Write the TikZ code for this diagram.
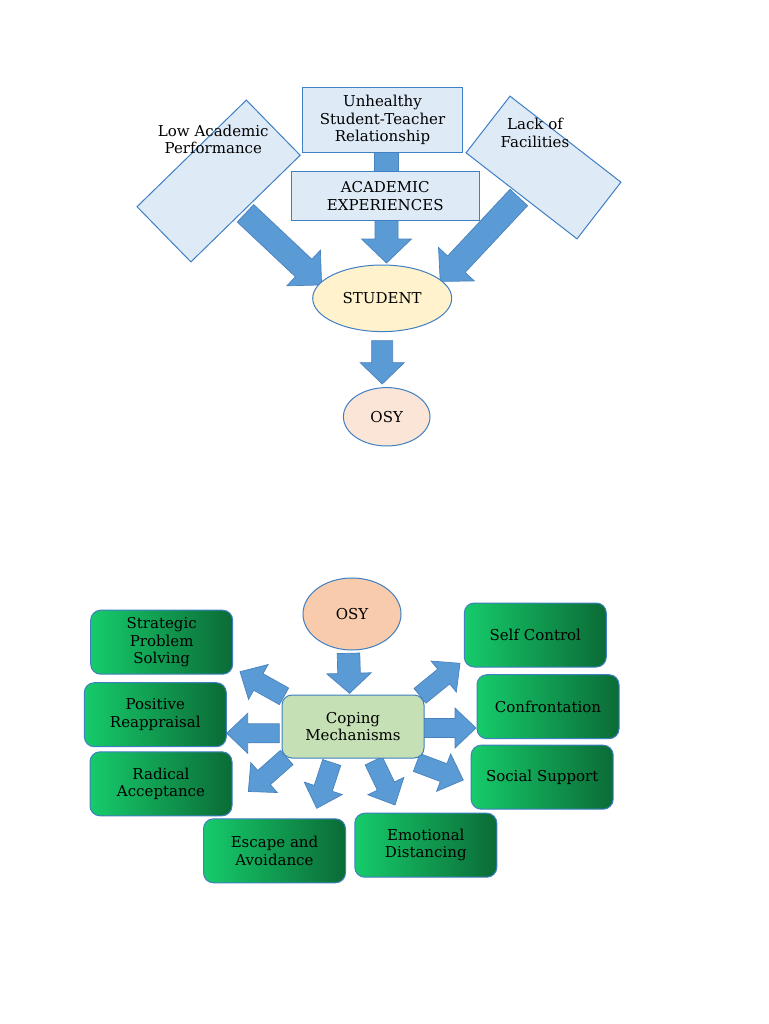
\documentclass[tikz,border=0pt]{standalone}
\usepackage{fontspec}
\setmainfont{DejaVu Serif}
\usetikzlibrary{shapes.geometric,backgrounds}
\definecolor{boxblue}{HTML}{DEEBF7}
\definecolor{edgeblue}{HTML}{3F7FC3}
\definecolor{arrowfill}{HTML}{5B9BD5}
\definecolor{arrowedge}{HTML}{4A82BE}
\definecolor{studentfill}{HTML}{FFF2CC}
\definecolor{osyfill}{HTML}{FBE5D6}
\definecolor{osyfillb}{HTML}{F8CBAD}
\definecolor{copingfill}{HTML}{C5E0B4}
\definecolor{greenL}{HTML}{16CB6B}
\definecolor{greenR}{HTML}{0B6B36}
\newcommand\blockarrow[5]{%
  \path (#1); \pgfgetlastxy{\baXa}{\baYa}%
  \path (#2); \pgfgetlastxy{\baXb}{\baYb}%
  \pgfmathsetmacro\baAng{atan2((\baYb)-(\baYa),(\baXb)-(\baXa))}%
  \pgfmathsetmacro\baLen{veclen((\baXb)-(\baXa),(\baYb)-(\baYa))}%
  \begin{scope}[shift={(#1)},rotate=\baAng,x=1pt,y=1pt]
    \draw[barrow] (0,#3) -- ({\baLen-#5},#3) -- ({\baLen-#5},#4) -- (\baLen,0)
      -- ({\baLen-#5},-#4) -- ({\baLen-#5},-#3) -- (0,-#3) -- cycle;
  \end{scope}}
\begin{document}
\begin{tikzpicture}[x=1pt,y=-1pt,
  every node/.style={font=\fontsize{15}{17.5}\selectfont, align=center, text=black},
  lightbox/.style={draw=edgeblue, fill=boxblue, line width=1pt, inner sep=0pt},
  oval/.style={ellipse, draw=edgeblue, line width=1pt, inner sep=0pt},
  greenbox/.style={draw=edgeblue, line width=1pt, rounded corners=10pt,
    left color=greenL, right color=greenR, minimum width=142pt, minimum height=64pt, inner sep=0pt},
  copingbox/.style={draw=edgeblue, fill=copingfill, line width=1pt, rounded corners=10pt,
    minimum width=142pt, minimum height=63pt, inner sep=0pt},
  barrow/.style={fill=arrowfill, draw=arrowedge, line width=0.7pt, line join=miter},
  plain/.style={inner sep=0pt}]
\useasboundingbox (0,0) rectangle (768,1024);

% ---------- top diagram ----------
\node[lightbox, minimum width=160.4pt, minimum height=65.4pt] (unh) at (382.5,120)
  {Unhealthy\\Student-Teacher\\Relationship};
\node[lightbox, minimum width=188.3pt, minimum height=48.3pt] (acad) at (385.2,195.9)
  {ACADEMIC\\EXPERIENCES};
\node[lightbox, rotate=44.3, minimum width=152.7pt, minimum height=77.1pt] (low) at (218.6,181) {};
\node[plain] (lowt) at (213.3,139.5) {Low Academic\\Performance};
\node[lightbox, rotate=-37.8, minimum width=140.4pt, minimum height=71.7pt] (lack) at (543.5,167.5) {};
\node[plain] (lackt) at (535,133) {Lack of\\Facilities};
\node[oval, fill=studentfill, minimum width=139pt, minimum height=66.6pt] (stu) at (382.2,298.3) {STUDENT};
\node[oval, fill=osyfill, minimum width=86.6pt, minimum height=58.4pt] (osy) at (386.7,416.8) {OSY};

% ---------- bottom diagram ----------
\node[oval, fill=osyfillb, minimum width=98pt, minimum height=72pt] (osyb) at (352,614) {OSY};
\node[copingbox] (cop) at (353,726.5) {Coping\\Mechanisms};
\node[greenbox] (sps) at (161.7,642.2) {Strategic\\Problem\\Solving};
\node[greenbox] (pr) at (155.3,714.7) {Positive\\Reappraisal};
\node[greenbox] (ra) at (161,783.8) {Radical\\Acceptance};
\node[greenbox] (ea) at (274.5,850.8) {Escape and\\Avoidance};
\node[greenbox] (ed) at (425.8,845.2) {Emotional\\Distancing};
\node[greenbox] (sc) at (535.3,635) {Self Control};
\node[greenbox] (co) at (548,706.7) {Confrontation};
\node[greenbox] (ss) at (542.2,777.2) {Social Support};

% arrow end points
\coordinate (bart) at (386.5,152.7);  \coordinate (barh) at (386.5,171.7);
\coordinate (a1t) at (245.5,213.3);   \coordinate (a1h) at (321.7,285);
\coordinate (a2t) at (386.5,219);     \coordinate (a2h) at (386.5,263);
\coordinate (a3t) at (518.8,197.5);   \coordinate (a3h) at (440,281.7);
\coordinate (a4t) at (382.2,340.7);   \coordinate (a4h) at (382.2,384);
\coordinate (b0t) at (348.5,653.3);   \coordinate (b0h) at (349.5,693.3);
\coordinate (bat) at (284,696.3);     \coordinate (bah) at (240,671.7);
\coordinate (bbt) at (279.3,733.3);   \coordinate (bbh) at (226.7,733.3);
\coordinate (bct) at (286.7,757.5);   \coordinate (bch) at (248.3,791.5);
\coordinate (bdt) at (331.7,762.5);   \coordinate (bdh) at (316.7,808.3);
\coordinate (bet) at (373.7,760.8);   \coordinate (beh) at (395,805);
\coordinate (bft) at (420,695.8);     \coordinate (bfh) at (460,663.3);
\coordinate (bgt) at (423.3,728);     \coordinate (bgh) at (476,728);
\coordinate (bht) at (416.7,762.5);   \coordinate (bhh) at (463.3,780);

\begin{scope}[on background layer]
  \fill[white] (0,0) rectangle (768,1024);
  \blockarrow{bart}{barh}{12}{12}{0}
  \blockarrow{a1t}{a1h}{12}{24.5}{24.7}
  \blockarrow{a2t}{a2h}{11.5}{25}{24}
  \blockarrow{a3t}{a3h}{12}{24.5}{23.6}
  \blockarrow{a4t}{a4h}{10.5}{22}{21.3}
  \blockarrow{b0t}{b0h}{11.3}{22.2}{20}
  \blockarrow{bat}{bah}{9.5}{20}{21}
  \blockarrow{bbt}{bbh}{9.5}{20}{21}
  \blockarrow{bct}{bch}{9.5}{20}{21}
  \blockarrow{bdt}{bdh}{9.5}{20}{21}
  \blockarrow{bet}{beh}{9.5}{20}{21}
  \blockarrow{bft}{bfh}{9.5}{20}{21}
  \blockarrow{bgt}{bgh}{9.5}{20}{21}
  \blockarrow{bht}{bhh}{9.5}{20}{21}
\end{scope}
\end{tikzpicture}
\end{document}
